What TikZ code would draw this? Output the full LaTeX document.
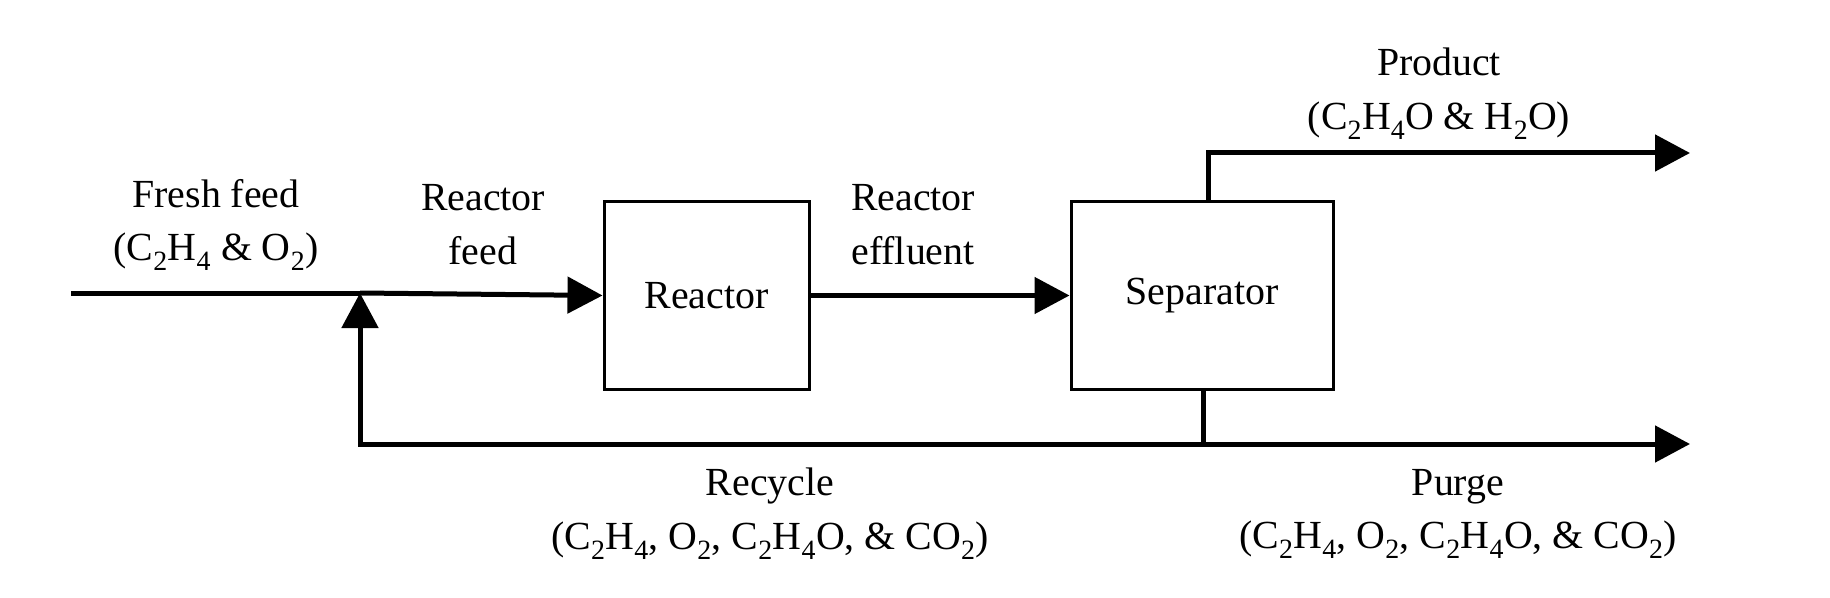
\documentclass[tikz,border=0pt]{standalone}
\usepackage{fontspec}
\setmainfont{Liberation Serif}
\usetikzlibrary{arrows.meta}
\newcommand{\subn}[1]{\textsubscript{#1}}
\begin{document}
\begin{tikzpicture}[x=1bp,y=-1bp,
  box/.style={draw,line width=3bp,inner sep=0pt},
  flow/.style={line width=5bp,-{Triangle[length=35bp,width=36bp]}},
  pipe/.style={line width=5bp},
  lbl/.style={align=center,font=\fontsize{40}{54}\selectfont,inner sep=0pt}]
\useasboundingbox (0,0) rectangle (1830,598);
\node[box,minimum width=205bp,minimum height=187bp,font=\fontsize{40}{54}\selectfont] (R) at (706.5,295.5) {Reactor};
\node[box,minimum width=262bp,minimum height=187bp,font=\fontsize{40}{54}\selectfont] (S) at (1202,295.5) {Separator};
\coordinate (in) at (71,293);
\coordinate (J) at (360,293);
\coordinate (Jb) at (360,444);
\coordinate (Sb) at (1203,444);
\coordinate (Pt) at (1208,153);
\coordinate (Pe) at (1690,153);
\coordinate (Ue) at (1690,444);
\draw[pipe] (in) -- (J);
\draw[flow] (J) -- (R.west);
\draw[flow] (R.east) -- (S.west);
\draw[pipe] (S.south -| Sb) -- (Sb);
\draw[flow] (Sb) -- (Ue);
\draw[flow] (Sb) -- (Jb) -- (J);
\draw[flow] (S.north -| Pt) -- (Pt) -- (Pe);
\node[lbl] (l1) at (216,225) {Fresh feed\\(C\subn{2}H\subn{4} \& O\subn{2})};
\node[lbl] (l2) at (483,225) {Reactor\\feed};
\node[lbl] (l3) at (913,225) {Reactor\\effluent};
\node[lbl] (l4) at (1439,94) {Product\\(C\subn{2}H\subn{4}O \& H\subn{2}O)};
\node[lbl] (l5) at (770,514) {Recycle\\(C\subn{2}H\subn{4}, O\subn{2}, C\subn{2}H\subn{4}O, \& CO\subn{2})};
\node[lbl] (l6) at (1458,514) {Purge\\(C\subn{2}H\subn{4}, O\subn{2}, C\subn{2}H\subn{4}O, \& CO\subn{2})};
\end{tikzpicture}
\end{document}
